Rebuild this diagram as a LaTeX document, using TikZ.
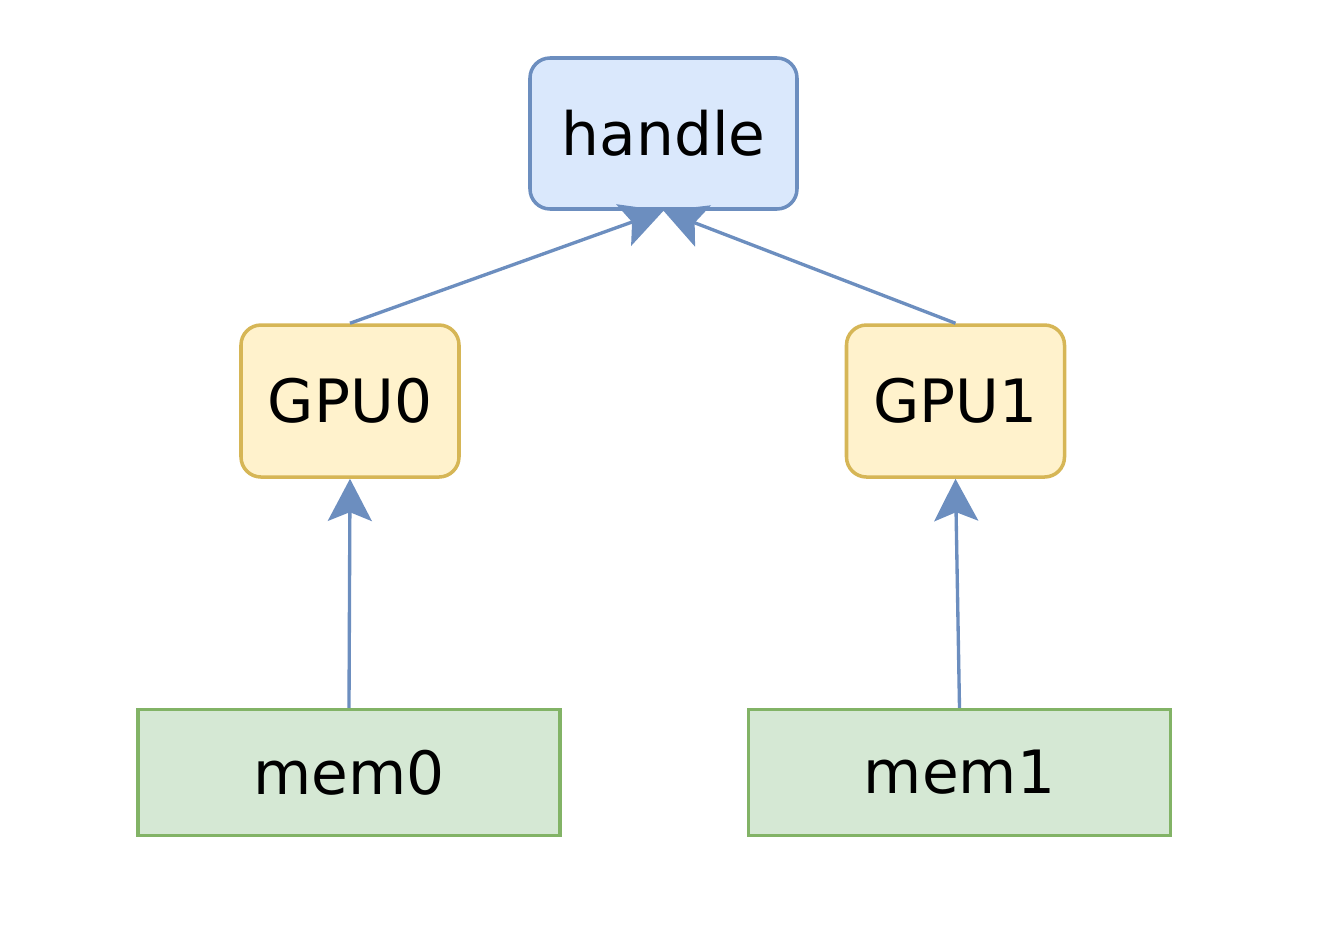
\documentclass[tikz,border=0pt]{standalone}
\usepackage{fontspec}
\setmainfont{DejaVu Sans}
\usetikzlibrary{positioning,arrows.meta}
\definecolor{blueFill}{HTML}{DAE8FC}
\definecolor{blueLine}{HTML}{6C8EBF}
\definecolor{yellowFill}{HTML}{FFF2CC}
\definecolor{yellowLine}{HTML}{D6B656}
\definecolor{greenFill}{HTML}{D5E8D4}
\definecolor{greenLine}{HTML}{82B366}
\tikzset{
  box/.style={draw, line width=2pt, inner sep=0pt, font=\fontsize{34}{40}\selectfont},
  handlebox/.style={box, fill=blueFill, draw=blueLine, rounded corners=0.4cm,
    minimum width=5.34cm, minimum height=3.02cm},
  gpubox/.style={box, fill=yellowFill, draw=yellowLine, rounded corners=0.4cm,
    minimum width=4.36cm, minimum height=3.04cm},
  membox/.style={box, fill=greenFill, draw=greenLine,
    minimum width=8.44cm, minimum height=2.52cm},
  link/.style={draw=blueLine, line width=1.9pt,
    -{Stealth[length=24pt, width=25pt, inset=5pt]}}
}

\begin{document}
\begin{tikzpicture}
			\useasboundingbox (0,0) rectangle (26.4,-19.02);

			% Define nodes
			\node[handlebox] (handle) at (13.27,-2.67) {handle};
			\node[gpubox, below=2.25cm of handle, xshift=-6.27cm] (GPU0) {GPU0};
			\node[gpubox, below=2.25cm of handle, xshift=5.84cm] (GPU1) {GPU1};
			\node[membox, below=4.58cm of GPU0, xshift=-0.02cm] (mem0) {mem0};
			\node[membox, below=4.58cm of GPU1, xshift=0.08cm] (mem1) {mem1};

			% Connect the nodes
			\draw[link] (GPU0.north) -- (handle.south);
			\draw[link] (GPU1.north) -- (handle.south);
			\draw[link] (mem0.north) -- (GPU0.south);
			\draw[link] (mem1.north) -- (GPU1.south);
		\end{tikzpicture}
\end{document}
